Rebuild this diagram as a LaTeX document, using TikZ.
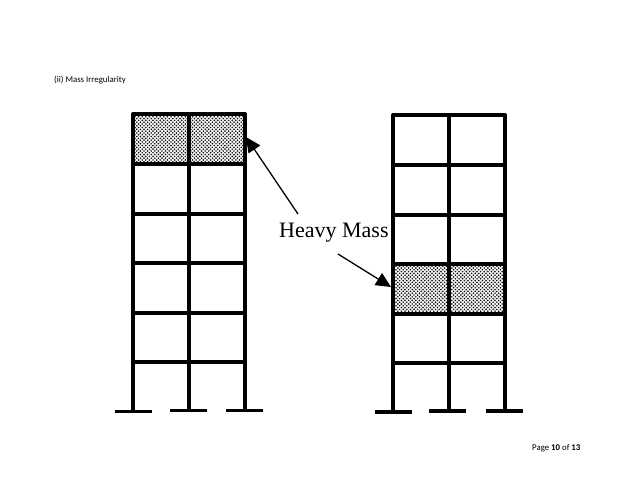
\documentclass[tikz,border=0pt]{standalone}
\usepackage{fontspec}
\setmainfont{Carlito}
\newfontfamily\serifmass{Liberation Serif}
\usetikzlibrary{arrows.meta,patterns.meta}

\begin{document}
\begin{tikzpicture}[
  x=1pt,y=-1pt,
  column/.style={line width=4pt,line cap=round},
  beam/.style={line width=3.4pt},
  footing/.style={line width=3.8pt},
  shade box/.style={pattern={Dots[distance=3.6pt,radius=.95pt]},pattern color=black!90},
  shade box two/.style={pattern={Dots[distance=3.6pt,radius=.95pt,xshift=1.8pt,yshift=1.8pt]},pattern color=black!90},
  pointer/.style={line width=1.3pt,-{Triangle[length=15pt,width=14pt]}},
  caption/.style={inner sep=0pt,anchor=west,font=\fontsize{8.8}{10}\selectfont}
]
  \useasboundingbox (0,0) rectangle (638,493);

  % heavy floors first, frames go over them
  \foreach \x/\y in {135/116,191/116,395/266,451/266} {
    \fill[shade box] (\x,\y) rectangle +(52,47);
    \fill[shade box two] (\x,\y) rectangle +(52,47);
  }

  % left frame
  \foreach \name/\x/\foot/\yf in {la/133/115/411.5,lb/189/170/410.5,lc/245/226/410.5} {
    \coordinate (\name top) at (\x,114);
    \coordinate (\name bot) at (\x,410);
    \coordinate (\name footl) at (\foot,\yf);
    \coordinate (\name footr) at (\foot+37,\yf);
    \draw[column] (\name top) -- (\name bot);
    \draw[footing] (\name footl) -- (\name footr);
  }
  \foreach \y in {114,164,214,263,313,362} {
    \coordinate (lbeamw\y) at (133,\y);
    \coordinate (lbeame\y) at (245,\y);
    \draw[beam] (lbeamw\y) -- (lbeame\y);
  }

  % right frame
  \foreach \name/\x/\foot/\yf in {ra/393/375/412,rb/449/429/411,rc/505/486/411} {
    \coordinate (\name top) at (\x,115);
    \coordinate (\name bot) at (\x,411);
    \coordinate (\name footl) at (\foot,\yf);
    \coordinate (\name footr) at (\foot+37,\yf);
    \draw[column] (\name top) -- (\name bot);
    \draw[footing] (\name footl) -- (\name footr);
  }
  \foreach \y in {115,165,215,264,314,363} {
    \coordinate (rbeamw\y) at (393,\y);
    \coordinate (rbeame\y) at (505,\y);
    \draw[beam] (rbeamw\y) -- (rbeame\y);
  }

  \node[inner sep=0pt,anchor=west,font=\serifmass\fontsize{22}{24}\selectfont] (mass) at (279,233) {Heavy Mass};

  \coordinate (uptail) at (298,214);
  \coordinate (uptip) at (246,137);
  \coordinate (lowtail) at (338,254);
  \coordinate (lowtip) at (391,287);
  \draw[pointer] (uptail) -- (uptip);
  \draw[pointer] (lowtail) -- (lowtip);

  \node[caption] (title) at (54,80) {(ii) Mass Irregularity};
  \node[caption] (page) at (532,448) {Page \textbf{10} of \textbf{13}};
\end{tikzpicture}
\end{document}
